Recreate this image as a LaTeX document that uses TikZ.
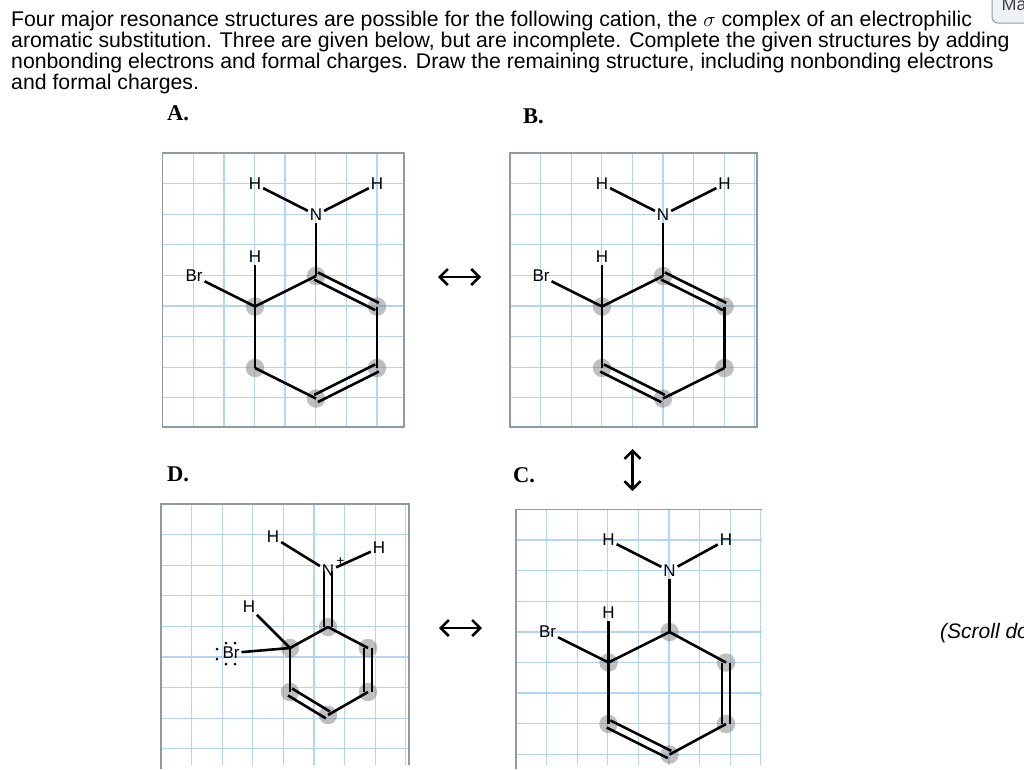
\documentclass[tikz,border=0pt]{standalone}
\usepackage{fontspec}
\setmainfont{Liberation Sans}
\newfontfamily\serifbold[Ligatures=TeX]{Liberation Serif}
\usetikzlibrary{calc}
\usetikzlibrary{arrows.meta}

\definecolor{gridblue}{HTML}{B4D4F2}
\definecolor{framegray}{HTML}{8E9BA6}
\definecolor{buttonfill}{HTML}{EEF2F8}

\tikzset{
  gridline/.style={gridblue, line width=1.3pt},
  frameline/.style={framegray, line width=1.4pt},
  atom/.style={circle, fill=black!50, fill opacity=0.5, minimum size=18.5pt, inner sep=0pt},
  label/.style={font=\fontsize{17}{17}\selectfont, inner sep=1.8pt},
  bond/.style={line width=2.6pt, black},
  para/.style={font=\fontsize{21.25}{21.25}\selectfont, anchor=base west, inner sep=0pt},
  panelname/.style={font=\fontsize{22.5}{22.5}\serifbold\bfseries\selectfont, anchor=base west, inner sep=0pt},
  resonance/.style={{Straight Barb[length=8pt,width=16pt,line width=2.6pt]}-{Straight Barb[length=8pt,width=16pt,line width=2.6pt]}, line width=2.6pt},
  lonedot/.style={circle, fill=black, minimum size=3pt, inner sep=0pt},
}

% grid: left, top, right, bottom, number of lines each way
\newcommand{\panelgrid}[6]{
  \foreach \i in {1,...,#5} \draw[gridline] ({#1+\i*30.6},#2) -- ({#1+\i*30.6},#4);
  \foreach \j in {1,...,#6} \draw[gridline] (#1,{#2+\j*30.6}) -- (#3,{#2+\j*30.6});
}
\newcommand{\dbond}[2]{
  \draw[bond] ($(#1.center)!4pt!90:(#2.center)$) -- ($(#2.center)!4pt!-90:(#1.center)$);
  \draw[bond] ($(#1.center)!4pt!-90:(#2.center)$) -- ($(#2.center)!4pt!90:(#1.center)$);
}
% the part that A, B and C have in common, #1 is the x of the right column
\newcommand{\skeleton}[1]{
  \node[atom] (c1) at (316,276) {};
  \node[atom] (c2) at (255,306.5) {};
  \node[atom] (c3) at (255,368) {};
  \node[atom] (c4) at (316,398.5) {};
  \node[atom] (c5) at (#1,368) {};
  \node[atom] (c6) at (#1,306.5) {};
  \node[label] (n) at (316,215) {N};
  \node[label] (h1) at (255,184) {H};
  \node[label] (h2) at (#1,184) {H};
  \node[label] (h3) at (255,257) {H};
  \node[label] (br) at (194,276) {Br};
  \draw[bond] (n) -- (h1);
  \draw[bond] (n) -- (h2);
  \draw[bond] (n) -- (c1.center);
  \draw[bond] (h3) -- (c2.center);
  \draw[bond] (br) -- (c2.center);
  \draw[bond] (c1.center) -- (c2.center);
  \draw[bond] (c2.center) -- (c3.center);
}

\begin{document}
\begin{tikzpicture}[x=1pt,y=-1pt]
  \useasboundingbox (0,0) rectangle (1024,769);
  \clip (0,0) rectangle (1024,769);

  \node[para] (line1) at (11,26.5) {Four major resonance structures are possible for the following cation, the $\sigma$ complex of an electrophilic};
  \node[para] (line2) at (11,47) {aromatic substitution. Three are given below, but are incomplete. Complete the given structures by adding};
  \node[para] (line3) at (11,68) {nonbonding electrons and formal charges. Draw the remaining structure, including nonbonding electrons};
  \node[para] (line4) at (11,89) {and formal charges.};

  \draw[framegray, fill=buttonfill, line width=1pt, rounded corners=6pt] (992,-8) rectangle (1040,23);
  \node[font=\fontsize{18}{18}\selectfont, anchor=base west, inner sep=0pt, black!75] (more) at (1001.5,10) {Ma};

  \node[panelname] (namea) at (167,120) {A.};
  \node[panelname] (nameb) at (523,123) {B.};
  \node[panelname] (namec) at (513,482) {C.};
  \node[panelname] (named) at (167,481) {D.};

  % A
  \panelgrid{162.7}{153}{404}{427}{7}{8}
  \draw[frameline] (162.7,427) -- (162.7,153) -- (404,153) -- (404,427) -- cycle;
  \begin{scope}[name prefix=a-]
    \skeleton{377}
    \draw[bond] (c3.center) -- (c4.center);
    \draw[bond] (c5.center) -- (c6.center);
    \dbond{c1}{c6}
    \dbond{c4}{c5}
  \end{scope}

  % B
  \panelgrid{510}{153}{757}{427}{8}{8}
  \draw[frameline] (510,427) -- (510,153) -- (757,153) -- (757,427) -- cycle;
  \begin{scope}[shift={(347,0)},name prefix=b-]
    \skeleton{377.5}
    \draw[bond] (c4.center) -- (c5.center);
    \draw[bond] (c5.center) -- (c6.center);
    \dbond{c1}{c6}
    \dbond{c3}{c4}
  \end{scope}

  % C
  \panelgrid{516}{509.5}{762}{765}{8}{8}
  \draw[frameline] (516,769) -- (516,509.5) -- (762,509.5);
  \begin{scope}[shift={(353.5,356)},name prefix=c-]
    \skeleton{372.5}
    \draw[bond] (c1.center) -- (c6.center);
    \draw[bond] (c4.center) -- (c5.center);
    \dbond{c3}{c4}
    \dbond{c5}{c6}
  \end{scope}

  % D
  \panelgrid{161}{504}{409}{765}{8}{8}
  \draw[frameline] (161,769) -- (161,504) -- (409,504) -- (409,765);
  \begin{scope}[name prefix=d-]
    \node[atom] (c1) at (328,627) {};
    \node[atom] (c2) at (290,648) {};
    \node[atom] (c3) at (290,692) {};
    \node[atom] (c4) at (328,715) {};
    \node[atom] (c5) at (368,692) {};
    \node[atom] (c6) at (368,648) {};
    \node[label] (n) at (328,571) {N};
    \node[label] (h1) at (273,537) {H};
    \node[label] (h2) at (379,548) {H};
    \node[label] (h3) at (249,607) {H};
    \node[label] (br) at (231,653) {Br};
    \node[font=\fontsize{14}{14}\selectfont, inner sep=0pt] (plus) at (340.5,561) {+};
    \draw[bond] (n) -- (h1);
    \draw[bond] (n) -- (h2);
    \draw[bond] (h3) -- (c2.center);
    \draw[bond] (br) -- (c2.center);
    \draw[bond] (c1.center) -- (c2.center);
    \draw[bond] (c2.center) -- (c3.center);
    \draw[bond] (c1.center) -- (c6.center);
    \draw[bond] (c4.center) -- (c5.center);
    \dbond{n}{c1}
    \dbond{c3}{c4}
    \dbond{c5}{c6}
    \foreach \dx/\dy [count=\k] in {217/649,217/659,226/643,235/643,226/664,235/664}
      \node[lonedot] (dot\k) at (\dx,\dy) {};
  \end{scope}

  % arrows between the structures
  \coordinate (ab1) at (438,277);
  \coordinate (ab2) at (481,277);
  \coordinate (bc1) at (632.5,449);
  \coordinate (bc2) at (632.5,491);
  \coordinate (dc1) at (439,628);
  \coordinate (dc2) at (482,628);
  \draw[resonance] (ab1) -- (ab2);
  \draw[resonance] (bc1) -- (bc2);
  \draw[resonance] (dc1) -- (dc2);

  \node[font=\fontsize{21}{21}\selectfont\itshape, anchor=base west, inner sep=0pt] (scroll) at (940,638) {(Scroll do};
\end{tikzpicture}
\end{document}
